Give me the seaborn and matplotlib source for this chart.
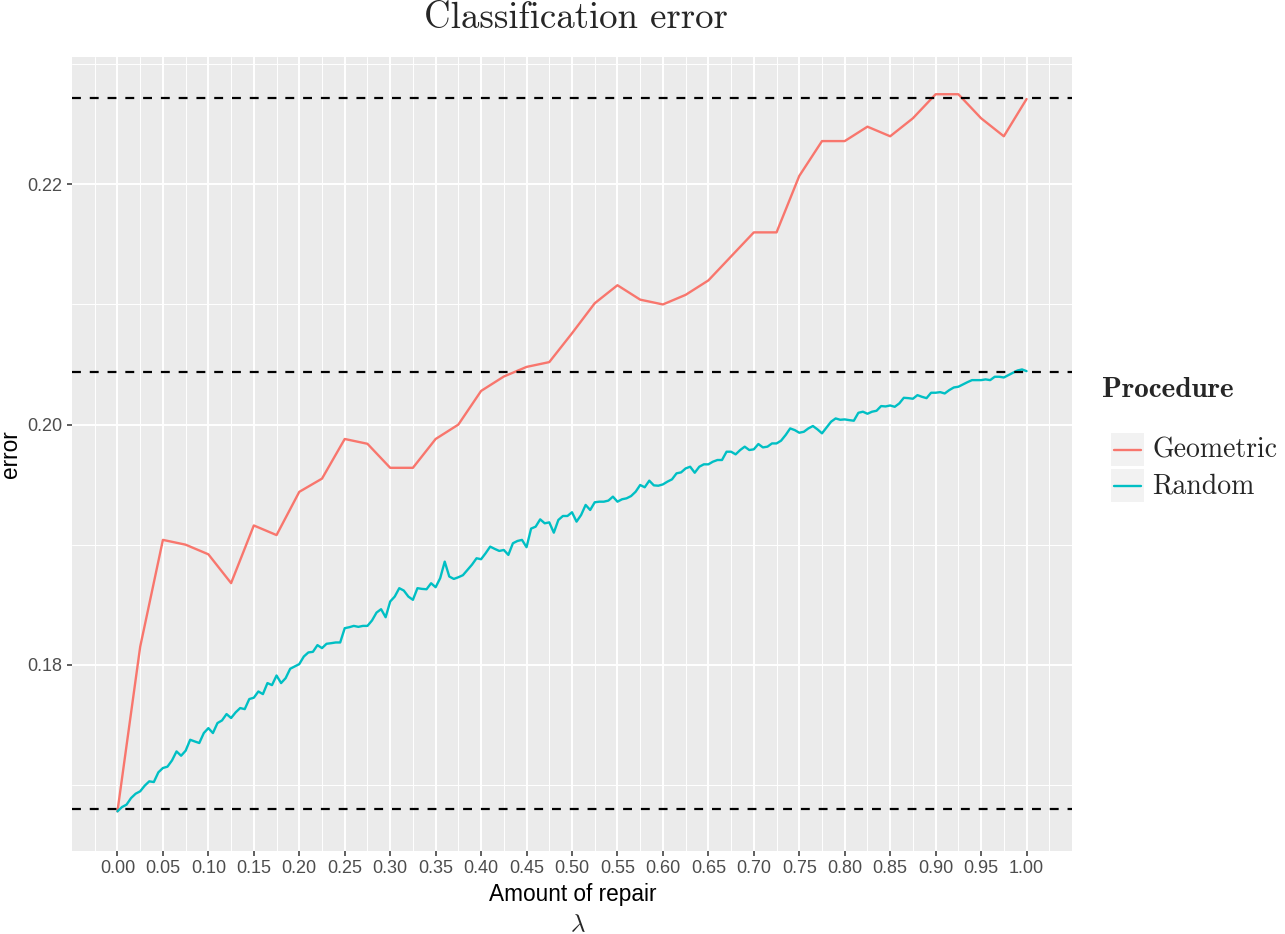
import numpy as np
import pandas as pd
import matplotlib
matplotlib.use("Agg")
import matplotlib.pyplot as plt
import seaborn as sns
from matplotlib.lines import Line2D
from matplotlib.patches import Rectangle

# ---------------- data ----------------
procedures = ["Geometric", "Random"]
colors = ["#F8766D", "#00BFC4"]

lambda_geometric = np.linspace(0.0, 1.0, 41)
error_geometric = [
    0.1678, 0.1815, 0.1904, 0.1900, 0.1892, 0.1868, 0.1916, 0.1908, 0.1944, 0.1955,
    0.1988, 0.1984, 0.1964, 0.1964, 0.1988, 0.2000, 0.2028, 0.2040, 0.2048, 0.2052,
    0.2076, 0.2101, 0.2116, 0.2104, 0.2100, 0.2108, 0.2120, 0.2140, 0.2160, 0.2160,
    0.2207, 0.2236, 0.2236, 0.2248, 0.2240, 0.2255, 0.2275, 0.2275, 0.2255, 0.2240,
    0.2271,
]

lambda_random = np.linspace(0.0, 1.0, 201)
error_random = [
    0.16780, 0.16816, 0.16836, 0.16891, 0.16927, 0.16947, 0.16994, 0.17030, 0.17024, 0.17105,
    0.17141, 0.17152, 0.17204, 0.17279, 0.17243, 0.17285, 0.17376, 0.17362, 0.17349, 0.17432,
    0.17473, 0.17432, 0.17515, 0.17537, 0.17590, 0.17557, 0.17604, 0.17640, 0.17631, 0.17715,
    0.17726, 0.17778, 0.17756, 0.17848, 0.17831, 0.17911, 0.17848, 0.17889, 0.17967, 0.17986,
    0.18006, 0.18069, 0.18103, 0.18108, 0.18164, 0.18139, 0.18175, 0.18180, 0.18186, 0.18186,
    0.18305, 0.18313, 0.18324, 0.18316, 0.18324, 0.18324, 0.18369, 0.18435, 0.18463, 0.18396,
    0.18527, 0.18568, 0.18638, 0.18618, 0.18568, 0.18541, 0.18638, 0.18632, 0.18629, 0.18679,
    0.18646, 0.18721, 0.18859, 0.18735, 0.18715, 0.18729, 0.18746, 0.18790, 0.18834, 0.18887,
    0.18879, 0.18929, 0.18984, 0.18965, 0.18948, 0.18956, 0.18915, 0.19012, 0.19031, 0.19040,
    0.18979, 0.19134, 0.19150, 0.19211, 0.19178, 0.19186, 0.19100, 0.19206, 0.19239, 0.19239,
    0.19270, 0.19192, 0.19247, 0.19331, 0.19289, 0.19353, 0.19358, 0.19358, 0.19367, 0.19400,
    0.19358, 0.19378, 0.19386, 0.19405, 0.19441, 0.19497, 0.19478, 0.19533, 0.19494, 0.19491,
    0.19502, 0.19525, 0.19544, 0.19594, 0.19602, 0.19635, 0.19649, 0.19599, 0.19649, 0.19669,
    0.19669, 0.19691, 0.19705, 0.19705, 0.19774, 0.19774, 0.19752, 0.19788, 0.19816, 0.19788,
    0.19794, 0.19838, 0.19810, 0.19816, 0.19843, 0.19843, 0.19866, 0.19913, 0.19968, 0.19954,
    0.19932, 0.19940, 0.19968, 0.19988, 0.19960, 0.19927, 0.19976, 0.20024, 0.20051, 0.20040,
    0.20043, 0.20037, 0.20032, 0.20098, 0.20107, 0.20090, 0.20107, 0.20115, 0.20154, 0.20151,
    0.20159, 0.20148, 0.20176, 0.20223, 0.20220, 0.20215, 0.20245, 0.20231, 0.20220, 0.20265,
    0.20265, 0.20270, 0.20259, 0.20287, 0.20309, 0.20315, 0.20334, 0.20353, 0.20370, 0.20370,
    0.20370, 0.20376, 0.20370, 0.20398, 0.20398, 0.20392, 0.20412, 0.20431, 0.20450, 0.20459,
    0.20445,
]

reference_levels = [0.2272, 0.2044, 0.1680]

x_ticks = np.linspace(0.0, 1.0, 21)
x_tick_labels = [f"{v:.2f}" for v in x_ticks]
y_ticks = [0.18, 0.20, 0.22]
y_tick_labels = ["0.18", "0.20", "0.22"]

df = pd.concat([
    pd.DataFrame({"lambda": lambda_geometric, "error": error_geometric, "Procedure": procedures[0]}),
    pd.DataFrame({"lambda": lambda_random, "error": error_random, "Procedure": procedures[1]}),
], ignore_index=True)

# ---------------- style ----------------
sns.set_theme(style="darkgrid")
plt.rcParams["font.family"] = ["Liberation Sans", "DejaVu Sans"]
plt.rcParams["mathtext.fontset"] = "cm"

W, H = 1285, 934
fig = plt.figure(figsize=(W / 100, H / 100), dpi=100)
fig.patch.set_facecolor("white")

px = lambda x: x / W
py = lambda y: 1 - y / H

ax = fig.add_axes([px(72), py(851), 1000 / W, 794 / H])
ax.set_facecolor("#EBEBEB")
for s in ax.spines.values():
    s.set_visible(False)

sns.lineplot(data=df, x="lambda", y="error", hue="Procedure",
             palette=dict(zip(procedures, colors)), linewidth=1.7,
             errorbar=None, legend=False, ax=ax, zorder=3)

for lvl in reference_levels:
    ax.axhline(lvl, color="black", linewidth=1.6, linestyle=(0, (4, 4)), zorder=4)

ax.set_xlim(-0.05, 1.05)
ax.set_ylim(0.1645, 0.2306)

ax.set_xticks(x_ticks)
ax.set_xticklabels(x_tick_labels)
ax.set_yticks(y_ticks)
ax.set_yticklabels(y_tick_labels)
ax.set_xticks(np.linspace(-0.025, 1.025, 22), minor=True)
ax.set_yticks([0.17, 0.19, 0.21, 0.23], minor=True)

ax.grid(which="major", color="white", linewidth=1.4)
ax.grid(which="minor", color="white", linewidth=0.7)
ax.set_axisbelow(True)

ax.tick_params(which="major", length=3.8, width=1.1, color="#333333",
               labelsize=13, labelcolor="#4D4D4D", pad=3, bottom=True, left=True)
ax.tick_params(which="minor", length=0)

ax.set_xlabel("Amount of repair", fontsize=16.3, color="black")
ax.xaxis.set_label_coords((573 - 72) / 1000, -(895 - 851) / 794)
ax.xaxis.label.set_va("center")
ax.set_ylabel("error", fontsize=16.3, color="black")
ax.yaxis.set_label_coords((11 - 72) / 1000, 0.5)
ax.yaxis.label.set_va("center")

fig.text(px(578), py(924), r"$\lambda$", fontsize=18, ha="center", va="center")

fig.text(px(576), py(18), "Classification error", family="cmr10",
         fontsize=26.5, ha="center", va="center")

# ---------------- legend ----------------
fig.text(px(1102), py(390), "Procedure", family="cmb10", fontsize=21,
         ha="left", va="center")
key_tops = [433, 469]
for name, col, top in zip(procedures, colors, key_tops):
    fig.add_artist(Rectangle((px(1111), py(top + 33)), 33 / W, 33 / H,
                             transform=fig.transFigure, facecolor="#F2F2F2",
                             edgecolor="none"))
    yc = top + 16.5
    fig.add_artist(Line2D([px(1114), px(1141)], [py(yc), py(yc)],
                          transform=fig.transFigure, color=col, linewidth=1.7))
    fig.text(px(1152), py(yc + 1), name, family="cmr10", fontsize=20,
             ha="left", va="center")

fig.savefig("out.png", dpi=100)
